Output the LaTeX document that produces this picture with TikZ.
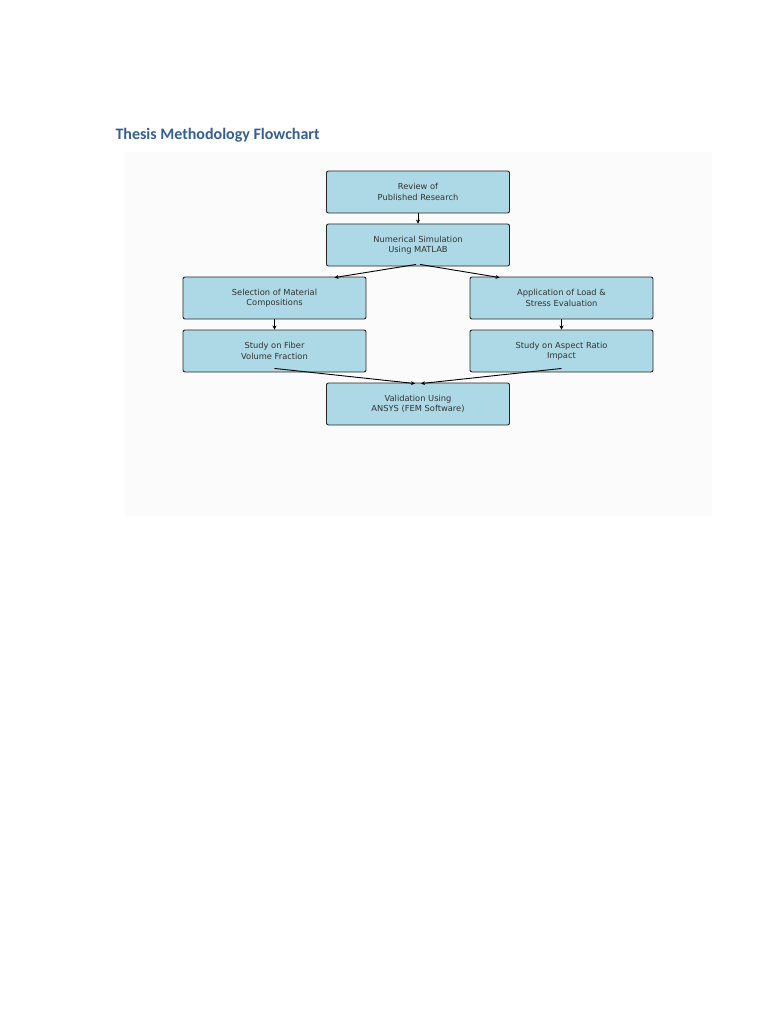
\documentclass[tikz,border=0pt]{standalone}
\usepackage{fontspec}
\setmainfont{DejaVu Sans}
\newfontfamily\titlefont{Carlito}
\usetikzlibrary{arrows.meta}
\definecolor{boxfill}{HTML}{ADD8E6}
\definecolor{titleblue}{HTML}{365F91}
\definecolor{txt}{HTML}{333333}
\begin{document}
\begin{tikzpicture}[x=1pt,y=-1pt,
  box/.style={draw=black!85,line width=0.9pt,fill=boxfill,rounded corners=2pt,minimum width=183pt,minimum height=42pt,align=center,font=\fontsize{8.3}{10.5}\selectfont,text=txt,inner sep=0pt},
  arr/.style={-{Stealth[length=4pt,width=4pt]},line width=0.9pt,black}]
\useasboundingbox (0,0) rectangle (768,1024);
\fill[white] (0,0) rectangle (768,1024);
\fill[black!1.5] (125,152) rectangle (712,516);
\node[anchor=west,font=\titlefont\bfseries\fontsize{16}{18}\selectfont,text=titleblue] (title) at (112,135) {Thesis Methodology Flowchart};
\node[box] (rev) at (418,192) {Review of\\Published Research};
\node[box] (num) at (418,245) {Numerical Simulation\\Using MATLAB};
\node[box] (sel) at (274.5,298) {Selection of Material\\Compositions};
\node[box] (app) at (561.5,298) {Application of Load \&\\Stress Evaluation};
\node[box] (fib) at (274.5,351) {Study on Fiber\\Volume Fraction};
\node[box] (asp) at (561.5,351) {Study on Aspect Ratio\\Impact};
\node[box] (val) at (418,404) {Validation Using\\ANSYS (FEM Software)};
\coordinate (n1) at ([xshift=-2pt,yshift=2pt]num.south);
\coordinate (n2) at ([xshift=2pt,yshift=2pt]num.south);
\coordinate (s1) at ([xshift=-222pt]app.north west);
\coordinate (a1) at ([xshift=30pt,yshift=-1pt]app.north west);
\coordinate (f1) at ([yshift=4pt]fib.south);
\coordinate (p1) at ([yshift=4pt]asp.south);
\coordinate (v1) at ([xshift=-3pt,yshift=-1pt]val.north);
\coordinate (v2) at ([xshift=3pt,yshift=-1pt]val.north);
\draw[arr] (rev.south) -- (num.north);
\draw[arr] (n1) -- ([xshift=60pt,yshift=-1pt]sel.north);
\draw[arr] (n2) -- (a1);
\draw[arr] (sel.south) -- (fib.north);
\draw[arr] (app.south) -- (asp.north);
\draw[arr] (f1) -- (v1);
\draw[arr] (p1) -- (v2);
\end{tikzpicture}
\end{document}
